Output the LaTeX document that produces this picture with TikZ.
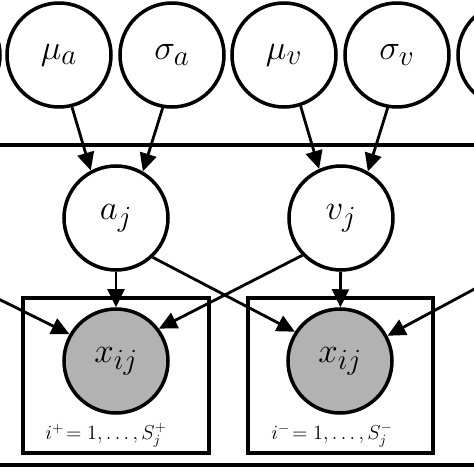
\documentclass[tikz,border=0pt]{standalone}
\usetikzlibrary{arrows.meta}
\begin{document}
\begin{tikzpicture}[
    latent/.style={circle,draw,line width=2.5pt,minimum size=2.6cm,inner sep=0pt,
        font=\fontsize{32}{36}\selectfont},
    obs/.style={latent,fill=gray!60},
    edge/.style={line width=2pt,-{Triangle[length=0.45cm,width=0.42cm]}},
    plate/.style={draw,line width=2.5pt}]
    \path[use as bounding box,clip] (0,0) rectangle (11.85,11.85);

    % hyperparameters
    \node[latent] (hl) at (-1.3,10.475) {};
    \node[latent] (mua) at (1.475,10.475) {$\mu_a$};
    \node[latent] (siga) at (4.3,10.475) {$\sigma_a$};
    \node[latent] (muv) at (7.1,10.475) {$\mu_v$};
    \node[latent] (sigv) at (9.925,10.475) {$\sigma_v$};
    \node[latent] (hr) at (12.75,10.475) {};

    % outer plates
    \draw [line width=2.5pt] (-1,8.225) -- (13,8.225);
    \draw [line width=2.5pt] (-1,0.225) -- (13,0.225);

    % item parameters
    \node[latent] (aj) at (2.9,6.4) {$a_j$};
    \node[latent] (vj) at (8.525,6.4) {$v_j$};

    % responses
    \node[obs] (xl) at (2.9,2.825) {$x_{ij}$};
    \node[obs] (xr) at (8.5,2.825) {$x_{ij}$};

    \draw [plate] (0.575,0.525) rectangle (5.225,4.4);
    \draw [plate] (6.2,0.525) rectangle (10.825,4.4);
    \node (pl) at (2.65,0.975) {\fontsize{14.5}{16}\selectfont $i^{+}\!=1,\ldots,S_j^{+}$};
    \node (pr) at (8.3,0.975) {\fontsize{14.5}{16}\selectfont $i^{-}\!=1,\ldots,S_j^{-}$};

    \coordinate (extl) at (-1.5,5.1);
    \coordinate (extr) at (13.35,5.425);

    \draw [edge] (mua.-76) -- (aj.118);
    \draw [edge] (siga.-100) -- (aj.60);
    \draw [edge] (muv.-72) -- (vj.114);
    \draw [edge] (sigv.-100) -- (vj.60);

    \draw [edge] (aj) -- (xl);
    \draw [edge] (vj) -- (xr);
    \draw [edge] (aj.-47) -- (xr.147);
    \draw [edge] (vj.-136) -- (xl.37);
    \draw [edge] (extl) -- (xl.150);
    \draw [edge] (extr) -- (xr.28);

    \end{tikzpicture}
\end{document}
